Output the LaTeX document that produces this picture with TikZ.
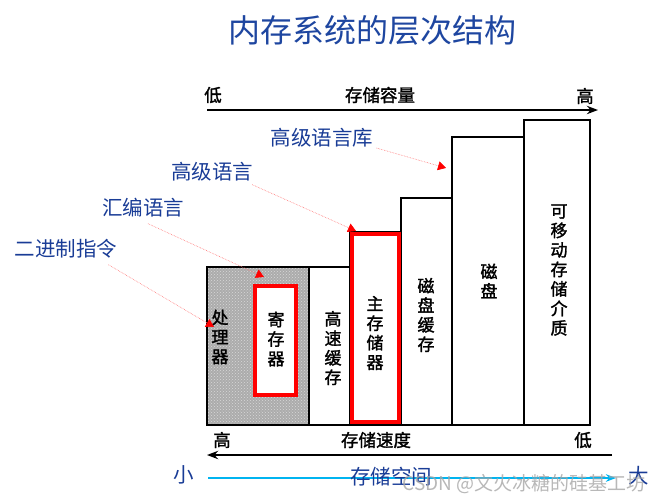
\documentclass[tikz,border=0pt]{standalone}
\usepackage{fontspec}
\newfontfamily\cjk{Noto Sans CJK SC}
\newfontfamily\cjkbold[FakeBold=1.6]{Noto Sans CJK SC}
\usepackage{tikz}
\usetikzlibrary{
    positioning,
    arrows.meta,
    patterns
}
\definecolor{titleBlue}{RGB}{30, 70, 160}
\definecolor{labelBlue}{RGB}{25, 60, 150}
\definecolor{axisCyan}{RGB}{0, 180, 240}
\definecolor{markRed}{RGB}{255, 0, 0}

\begin{document}
\begin{tikzpicture}[x=1pt, y=-1pt, >=Stealth,
    level/.style={draw=black, line width=1.6pt, fill=white},
    redbox/.style={draw=markRed, line width=4.8pt, fill=white},
    boxtext/.style={font=\cjkbold\fontsize{17}{19.5}\selectfont, align=center, inner sep=0pt},
    axistext/.style={font=\cjkbold\fontsize{17.5}{17.5}\selectfont, inner sep=0pt},
    langlabel/.style={font=\cjk\fontsize{20.5}{21}\selectfont, text=labelBlue, inner sep=1pt},
    pointer/.style={draw=markRed!55, densely dotted, line width=0.6pt,
        -{Triangle[length=8pt, width=9pt, color=markRed, fill=markRed]}}
]
    \useasboundingbox (0,0) rectangle (664,501);

    % title
    \node[font=\cjk\fontsize{32}{32}\selectfont, text=titleBlue] (title) at (372,30) {内存系统的层次结构};

    % storage capacity axis
    \node[axistext] (capLow) at (213,95) {低};
    \node[axistext] (capName) at (380,95) {存储容量};
    \node[axistext] (capHigh) at (585,96) {高};
    \coordinate (capStart) at (207,110);
    \coordinate (capEnd) at (598,110);
    \draw[->, line width=1.8pt] (capStart) -- (capEnd);

    % the levels
    \fill[gray!65] (207,267) rectangle (309,425);
    \fill[pattern=crosshatch dots, pattern color=gray!30] (207,267) rectangle (309,425);
    \draw[level, fill=none] (207,267) rectangle (309,425);
    \draw[level] (309,267) rectangle (350,425);
    \draw[level] (350,232) rectangle (401,425);
    \draw[level] (401,198) rectangle (452,425);
    \draw[level] (452,137) rectangle (524,425);
    \draw[level] (524,120) rectangle (590,425);

    % marked levels
    \draw[redbox] (255,286) rectangle (296,395);
    \draw[redbox] (352,234) rectangle (399,422);

    \node[boxtext] (cpu) at (220,337) {处\\理\\器};
    \node[boxtext] (reg) at (276,339) {寄\\存\\器};
    \node[boxtext] (cache) at (333,348) {高\\速\\缓\\存};
    \node[boxtext] (mem) at (375,333) {主\\存\\储\\器};
    \node[boxtext] (dcache) at (426,315) {磁\\盘\\缓\\存};
    \node[boxtext] (disk) at (489,281) {磁\\盘};
    \node[boxtext] (media) at (559,270) {可\\移\\动\\存\\储\\介\\质};

    % storage speed axis
    \node[axistext] (spdHigh) at (222,440) {高};
    \node[axistext] (spdName) at (376,440) {存储速度};
    \node[axistext] (spdLow) at (583,440) {低};
    \coordinate (spdStart) at (612,455);
    \coordinate (spdEnd) at (207,455);
    \draw[->, line width=1.8pt] (spdStart) -- (spdEnd);

    % storage space axis
    \node[langlabel] (spaceLow) at (184,475) {小};
    \coordinate (spaceStart) at (208,478);
    \coordinate (spaceEnd) at (616,478);
    \draw[->, axisCyan, line width=1.6pt] (spaceStart) -- (spaceEnd);
    \node[langlabel] (spaceName) at (391,477) {存储空间};
    \node[langlabel] (spaceHigh) at (639,476) {大};
    \node[font=\cjk\fontsize{19}{19}\selectfont, text=gray!70, opacity=0.8] (mark) at (524,484) {CSDN @文火冰糖的硅基工坊};

    % language levels
    \node[langlabel] (libLang) at (322,138) {高级语言库};
    \node[langlabel] (highLang) at (212,172) {高级语言};
    \node[langlabel] (asmLang) at (143,208) {汇编语言};
    \node[langlabel] (binLang) at (66,249) {二进制指令};
    \coordinate (libTip) at (446,168);
    \coordinate (highTip) at (356,231);
    \coordinate (asmTip) at (264,277);
    \coordinate (binTip) at (214,327);
    \draw[pointer] (libLang.east) ++(2,10) -- (libTip);
    \draw[pointer] (highLang.south east) ++(-2,2) -- (highTip);
    \draw[pointer] (asmLang.south) ++(5,5) -- (asmTip);
    \draw[pointer] (binLang.south east) ++(-10,5) -- (binTip);
\end{tikzpicture}
\end{document}
